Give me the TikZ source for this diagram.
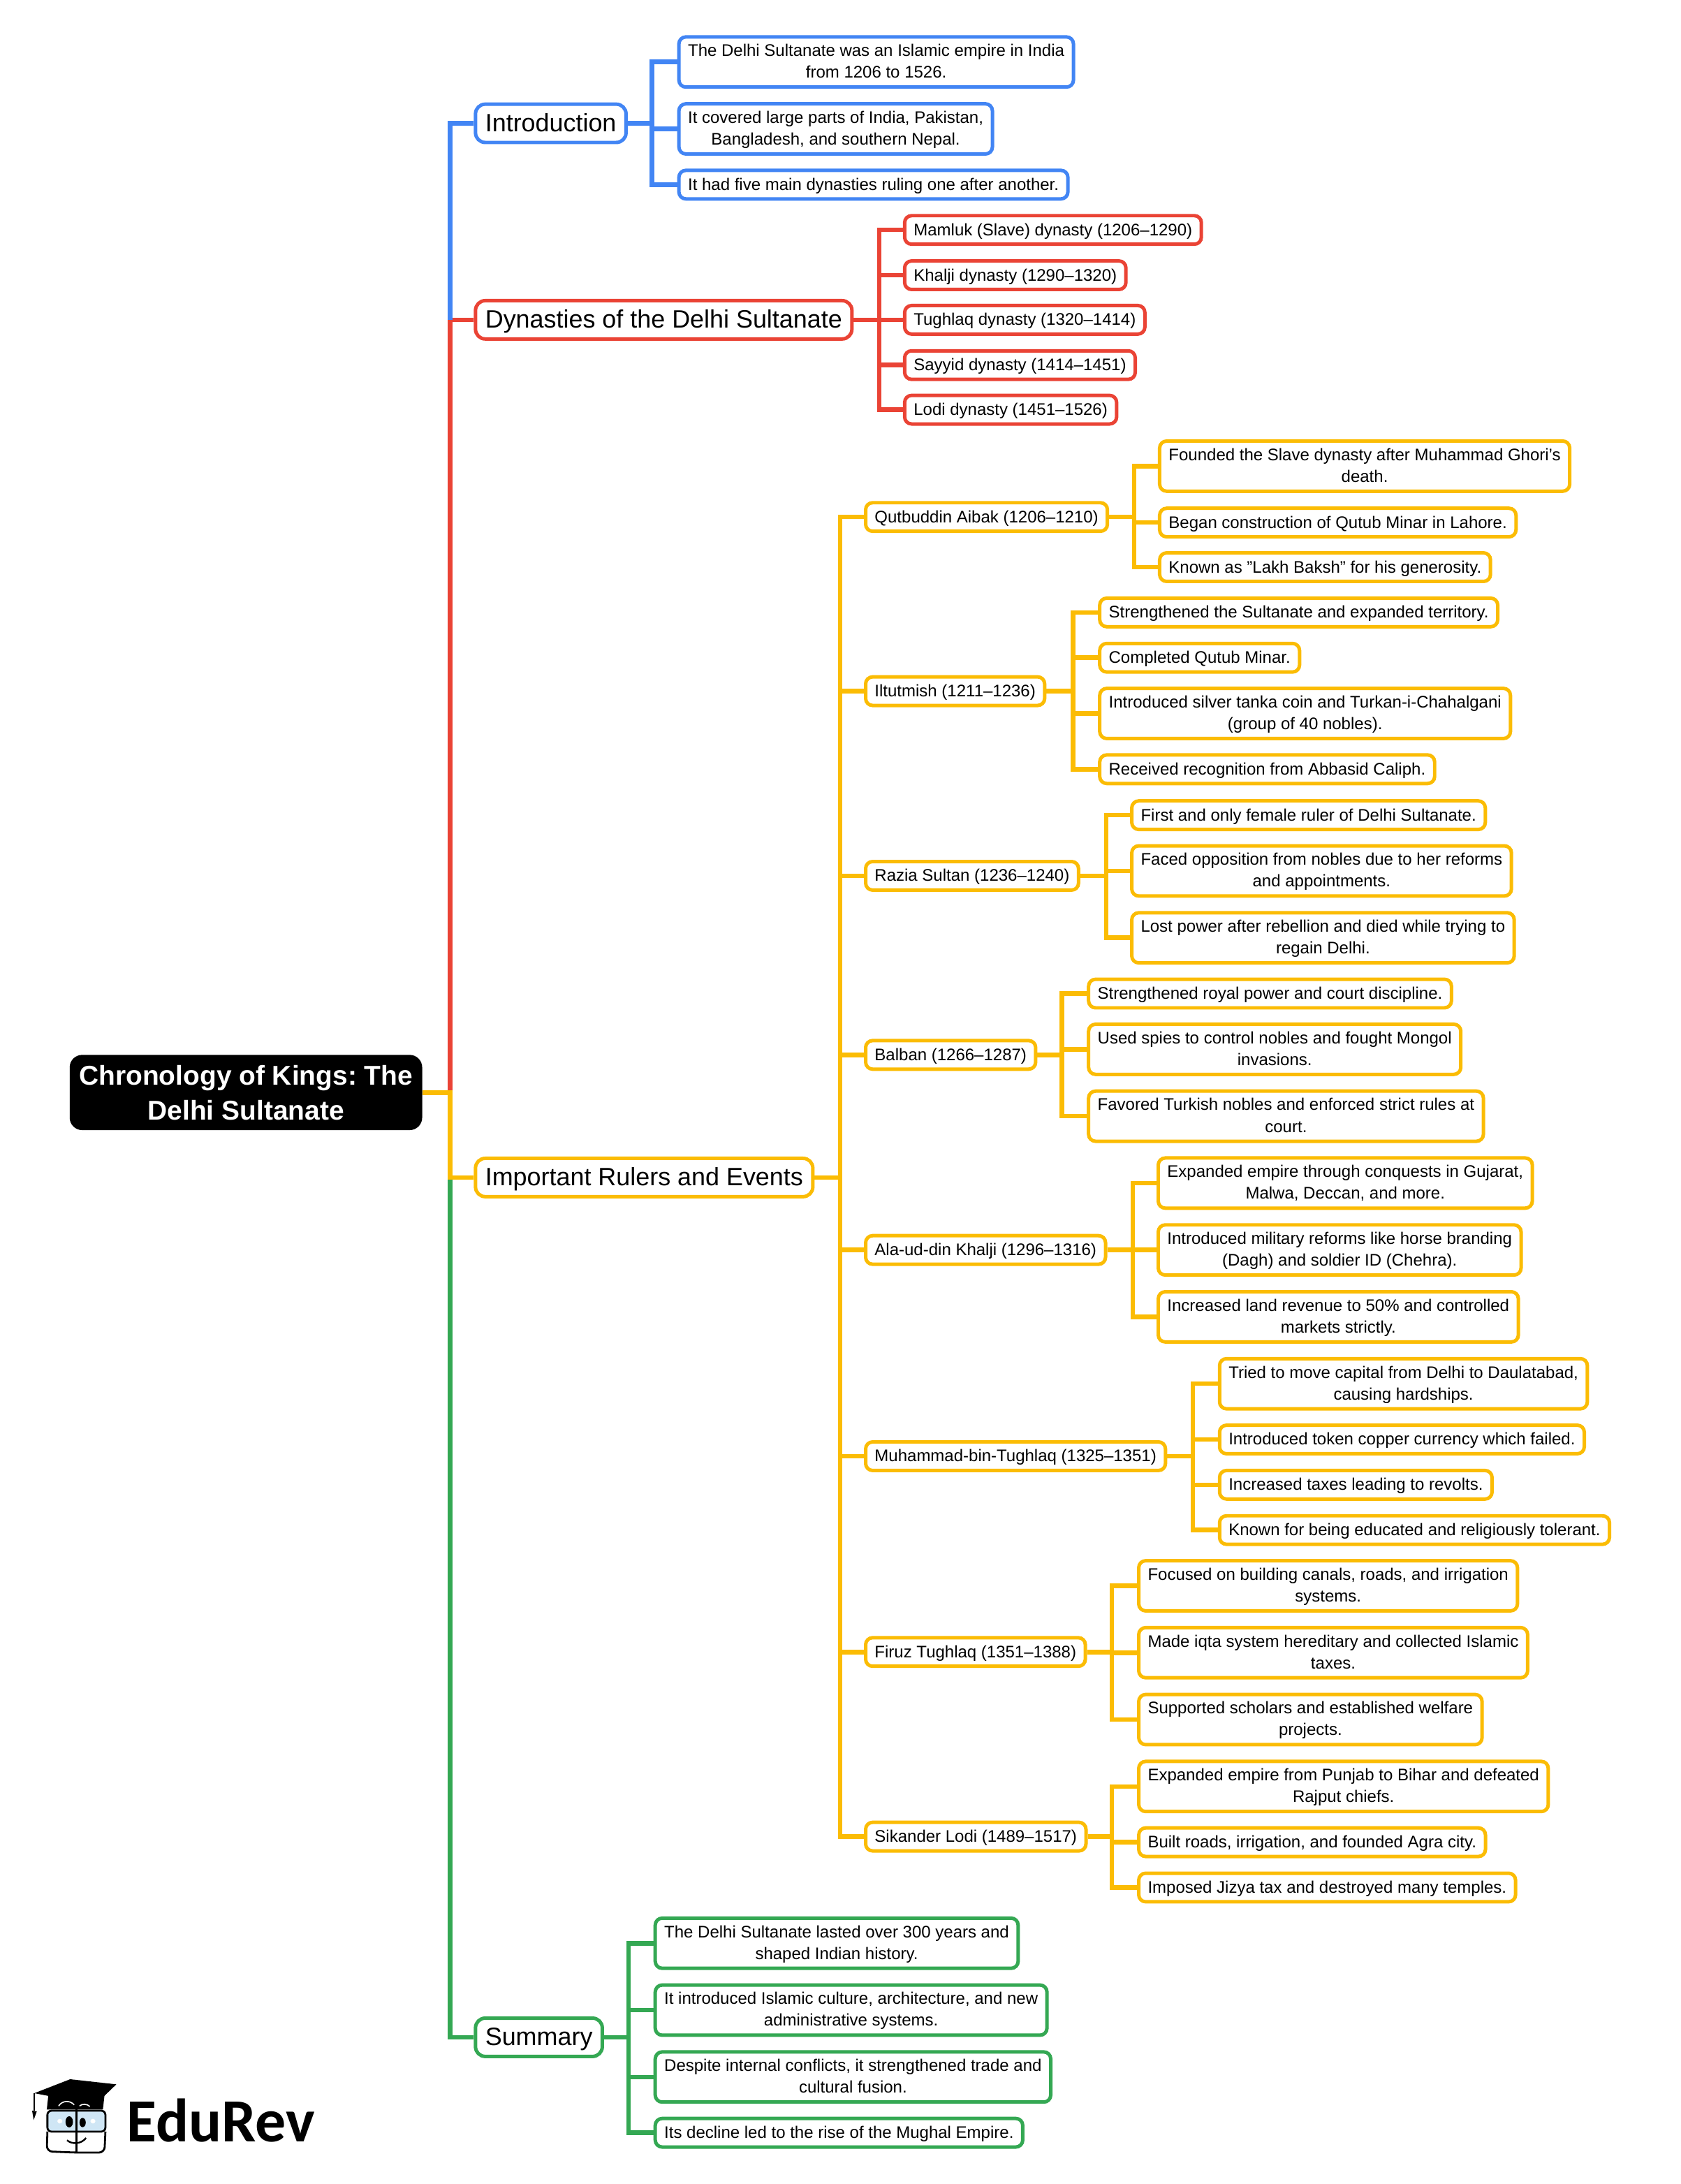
\documentclass[tikz,border=0pt]{standalone}
\usepackage{fontspec}
\setmainfont{Liberation Sans}
\newfontfamily\logofont{Carlito}
\definecolor{gblue}{HTML}{4285F4}
\definecolor{gred}{HTML}{EA4335}
\definecolor{gyellow}{HTML}{FBBC04}
\definecolor{ggreen}{HTML}{34A853}
\definecolor{lens}{HTML}{CFE6F5}
\tikzset{
  rootnode/.style={fill=black,text=white,rounded corners=9,minimum width=253,minimum height=54,inner xsep=0,inner ysep=0,align=center,
    font=\fontsize{19.5}{25}\selectfont\bfseries},
  topic/.style={draw=#1,fill=white,line width=2.5,rounded corners=7,anchor=west,minimum height=27.5,inner xsep=7,inner ysep=0,
    text height=15.5,text depth=3.5,font=\fontsize{18}{22}\selectfont},
  leaf/.style={draw=#1,fill=white,line width=2.5,rounded corners=5,anchor=west,minimum height=20.5,inner xsep=6.5,inner ysep=0,align=center,
    text height=10.5,text depth=2.5,font=\fontsize{12.03}{15.6}\selectfont},
  two/.style={minimum height=36,text height=25.6,text depth=2.6},
  wire/.style={draw=#1,line width=3.3}
}
\begin{document}
\frenchspacing
\begin{tikzpicture}[x=1pt,y=-1pt]
        \useasboundingbox (0,0) rectangle (1206.4,1567.3);
        \node[rootnode] (root) at (176.5,784) {Chronology of Kings: The\\Delhi Sultanate};

        \coordinate (tMain) at (323,784);
        \node[topic=gblue] (intro) at (340,88.5) {Introduction};
        \node[topic=gred] (dyn) at (340,229.5) {Dynasties of the Delhi Sultanate};
        \node[topic=gyellow] (imp) at (340,845) {Important Rulers and Events};
        \node[topic=ggreen] (summ) at (340,1462) {Summary};

        \coordinate (tDyn) at (323,229.5);
        \coordinate (tImp) at (323,845);
        \draw[wire=gred] (dyn.west) -| (tMain);
        \draw[wire=gblue] (intro.west) -| (tDyn);
        \draw[wire=ggreen] (summ.west) -| (tImp);
        \draw[wire=gyellow] (root.east) -- (tMain) |- (imp.west);

        % introduction
        \coordinate (tIntro) at (468,88.5);
        \node[leaf=gblue,two] (i1) at (486,44.5) {The Delhi Sultanate was an Islamic empire in India\\from 1206 to 1526.};
        \node[leaf=gblue,two] (i2) at (486,92.5) {It covered large parts of India, Pakistan,\\Bangladesh, and southern Nepal.};
        \node[leaf=gblue] (i3) at (486,132.5) {It had five main dynasties ruling one after another.};
        \draw[wire=gblue] (intro.east) -- (tIntro) |- (i1.west);
        \draw[wire=gblue] (intro.east) -- (tIntro) |- (i2.west);
        \draw[wire=gblue] (intro.east) -- (tIntro) |- (i3.west);

        % dynasties
        \coordinate (tList) at (631,229.5);
        \node[leaf=gred] (d1) at (648,165) {Mamluk (Slave) dynasty (1206--1290)};
        \node[leaf=gred] (d2) at (648,197.5) {Khalji dynasty (1290--1320)};
        \node[leaf=gred] (d3) at (648,229.5) {Tughlaq dynasty (1320--1414)};
        \node[leaf=gred] (d4) at (648,262) {Sayyid dynasty (1414--1451)};
        \node[leaf=gred] (d5) at (648,294) {Lodi dynasty (1451--1526)};
        \draw[wire=gred] (dyn.east) -- (tList) |- (d1.west);
        \draw[wire=gred] (dyn.east) -- (tList) |- (d2.west);
        \draw[wire=gred] (dyn.east) -- (tList) |- (d3.west);
        \draw[wire=gred] (dyn.east) -- (tList) |- (d4.west);
        \draw[wire=gred] (dyn.east) -- (tList) |- (d5.west);

        % rulers
        \coordinate (tRuler) at (603,845);
        \node[leaf=gyellow] (qutb) at (620,371) {Qutbuddin Aibak (1206--1210)};
        \node[leaf=gyellow] (ilt) at (620,496) {Iltutmish (1211--1236)};
        \node[leaf=gyellow] (raz) at (620,628.5) {Razia Sultan (1236--1240)};
        \node[leaf=gyellow] (bal) at (620,757) {Balban (1266--1287)};
        \node[leaf=gyellow] (ala) at (620,897) {Ala-ud-din Khalji (1296--1316)};
        \node[leaf=gyellow] (mbt) at (620,1045) {Muhammad-bin-Tughlaq (1325--1351)};
        \node[leaf=gyellow] (fir) at (620,1185.5) {Firuz Tughlaq (1351--1388)};
        \node[leaf=gyellow] (sik) at (620,1318) {Sikander Lodi (1489--1517)};
        \draw[wire=gyellow] (imp.east) -- (tRuler) |- (qutb.west);
        \draw[wire=gyellow] (imp.east) -- (tRuler) |- (ilt.west);
        \draw[wire=gyellow] (imp.east) -- (tRuler) |- (raz.west);
        \draw[wire=gyellow] (imp.east) -- (tRuler) |- (bal.west);
        \draw[wire=gyellow] (imp.east) -- (tRuler) |- (ala.west);
        \draw[wire=gyellow] (imp.east) -- (tRuler) |- (mbt.west);
        \draw[wire=gyellow] (imp.east) -- (tRuler) |- (fir.west);
        \draw[wire=gyellow] (imp.east) -- (tRuler) |- (sik.west);

        % qutbuddin
        \coordinate (tQutb) at (814,371);
        \node[leaf=gyellow,two] (q1) at (831,334.5) {Founded the Slave dynasty after Muhammad Ghori's\\death.};
        \node[leaf=gyellow] (q2) at (831,375) {Began construction of Qutub Minar in Lahore.};
        \node[leaf=gyellow] (q3) at (831,407) {Known as "Lakh Baksh" for his generosity.};
        \draw[wire=gyellow] (qutb.east) -- (tQutb) |- (q1.west);
        \draw[wire=gyellow] (qutb.east) -- (tQutb) |- (q2.west);
        \draw[wire=gyellow] (qutb.east) -- (tQutb) |- (q3.west);

        % iltutmish
        \coordinate (tIlt) at (770,496);
        \node[leaf=gyellow] (l1) at (788,439.5) {Strengthened the Sultanate and expanded territory.};
        \node[leaf=gyellow] (l2) at (788,472) {Completed Qutub Minar.};
        \node[leaf=gyellow,two] (l3) at (788,512) {Introduced silver tanka coin and Turkan-i-Chahalgani\\(group of 40 nobles).};
        \node[leaf=gyellow] (l4) at (788,552) {Received recognition from Abbasid Caliph.};
        \draw[wire=gyellow] (ilt.east) -- (tIlt) |- (l1.west);
        \draw[wire=gyellow] (ilt.east) -- (tIlt) |- (l2.west);
        \draw[wire=gyellow] (ilt.east) -- (tIlt) |- (l3.west);
        \draw[wire=gyellow] (ilt.east) -- (tIlt) |- (l4.west);

        % razia
        \coordinate (tRaz) at (794,628.5);
        \node[leaf=gyellow] (r1) at (811,585) {First and only female ruler of Delhi Sultanate.};
        \node[leaf=gyellow,two] (r2) at (811,625) {Faced opposition from nobles due to her reforms\\and appointments.};
        \node[leaf=gyellow,two] (r3) at (811,673) {Lost power after rebellion and died while trying to\\regain Delhi.};
        \draw[wire=gyellow] (raz.east) -- (tRaz) |- (r1.west);
        \draw[wire=gyellow] (raz.east) -- (tRaz) |- (r2.west);
        \draw[wire=gyellow] (raz.east) -- (tRaz) |- (r3.west);

        % balban
        \coordinate (tBal) at (762,757);
        \node[leaf=gyellow] (b1) at (780,713) {Strengthened royal power and court discipline.};
        \node[leaf=gyellow,two] (b2) at (780,753) {Used spies to control nobles and fought Mongol\\invasions.};
        \node[leaf=gyellow,two] (b3) at (780,801) {Favored Turkish nobles and enforced strict rules at\\court.};
        \draw[wire=gyellow] (bal.east) -- (tBal) |- (b1.west);
        \draw[wire=gyellow] (bal.east) -- (tBal) |- (b2.west);
        \draw[wire=gyellow] (bal.east) -- (tBal) |- (b3.west);

        % ala-ud-din
        \coordinate (tAla) at (813,897);
        \node[leaf=gyellow,two] (a1) at (830,849) {Expanded empire through conquests in Gujarat,\\Malwa, Deccan, and more.};
        \node[leaf=gyellow,two] (a2) at (830,897) {Introduced military reforms like horse branding\\(Dagh) and soldier ID (Chehra).};
        \node[leaf=gyellow,two] (a3) at (830,945) {Increased land revenue to 50\% and controlled\\markets strictly.};
        \draw[wire=gyellow] (ala.east) -- (tAla) |- (a1.west);
        \draw[wire=gyellow] (ala.east) -- (tAla) |- (a2.west);
        \draw[wire=gyellow] (ala.east) -- (tAla) |- (a3.west);

        % muhammad
        \coordinate (tMbt) at (856,1045);
        \node[leaf=gyellow,two] (m1) at (874,993) {Tried to move capital from Delhi to Daulatabad,\\causing hardships.};
        \node[leaf=gyellow] (m2) at (874,1033) {Introduced token copper currency which failed.};
        \node[leaf=gyellow] (m3) at (874,1065.5) {Increased taxes leading to revolts.};
        \node[leaf=gyellow] (m4) at (874,1098) {Known for being educated and religiously tolerant.};
        \draw[wire=gyellow] (mbt.east) -- (tMbt) |- (m1.west);
        \draw[wire=gyellow] (mbt.east) -- (tMbt) |- (m2.west);
        \draw[wire=gyellow] (mbt.east) -- (tMbt) |- (m3.west);
        \draw[wire=gyellow] (mbt.east) -- (tMbt) |- (m4.west);

        % firuz
        \coordinate (tFir) at (798,1185.5);
        \node[leaf=gyellow,two] (f1) at (816,1138) {Focused on building canals, roads, and irrigation\\systems.};
        \node[leaf=gyellow,two] (f2) at (816,1186) {Made iqta system hereditary and collected Islamic\\taxes.};
        \node[leaf=gyellow,two] (f3) at (816,1234) {Supported scholars and established welfare\\projects.};
        \draw[wire=gyellow] (fir.east) -- (tFir) |- (f1.west);
        \draw[wire=gyellow] (fir.east) -- (tFir) |- (f2.west);
        \draw[wire=gyellow] (fir.east) -- (tFir) |- (f3.west);

        % sikander
        \coordinate (tSik) at (798,1318);
        \node[leaf=gyellow,two] (s1) at (816,1282) {Expanded empire from Punjab to Bihar and defeated\\Rajput chiefs.};
        \node[leaf=gyellow] (s2) at (816,1322) {Built roads, irrigation, and founded Agra city.};
        \node[leaf=gyellow] (s3) at (816,1354.5) {Imposed Jizya tax and destroyed many temples.};
        \draw[wire=gyellow] (sik.east) -- (tSik) |- (s1.west);
        \draw[wire=gyellow] (sik.east) -- (tSik) |- (s2.west);
        \draw[wire=gyellow] (sik.east) -- (tSik) |- (s3.west);

        % summary
        \coordinate (tSumm) at (451,1462);
        \node[leaf=ggreen,two] (e1) at (469,1394.5) {The Delhi Sultanate lasted over 300 years and\\shaped Indian history.};
        \node[leaf=ggreen,two] (e2) at (469,1442.5) {It introduced Islamic culture, architecture, and new\\administrative systems.};
        \node[leaf=ggreen,two] (e3) at (469,1490.5) {Despite internal conflicts, it strengthened trade and\\cultural fusion.};
        \node[leaf=ggreen] (e4) at (469,1530.5) {Its decline led to the rise of the Mughal Empire.};
        \draw[wire=ggreen] (summ.east) -- (tSumm) |- (e1.west);
        \draw[wire=ggreen] (summ.east) -- (tSumm) |- (e2.west);
        \draw[wire=ggreen] (summ.east) -- (tSumm) |- (e3.west);
        \draw[wire=ggreen] (summ.east) -- (tSumm) |- (e4.west);

        % logo
        \node[anchor=base west,inner sep=0,font=\fontsize{44}{44}\selectfont\logofont\bfseries] (brand) at (91,1537) {EduRev};
        \begin{scope}[shift={(0,1428.6)},x=0.2238pt,y=-0.1671pt]
          \fill (155,450) -- (335,450) -- (330,510) -- (150,510) -- cycle;
          \fill[lens,draw=black,line width=1.4,rounded corners=3] (152,515) rectangle (338,605);
          \draw[line width=1.4,rounded corners=4] (152,605) -- (150,690) -- (245,695) -- (335,695) -- (338,605);
          \draw[white,line width=0.8] (188,495) .. controls (200,470) and (225,470) .. (238,490);
          \draw[white,line width=0.8] (255,495) .. controls (262,485) and (280,485) .. (288,497);
          \fill (110,440) -- (225,380) -- (373,402) -- (305,490) -- cycle;
          \draw[line width=0.7] (110,440) -- (110,515);
          \fill (103,515) -- (118,518) -- (108,555) -- cycle;
          \draw[line width=1.4] (245,505) -- (245,695);
          \fill (222,563) ellipse [x radius=12,y radius=24];
          \fill (265,566) ellipse [x radius=10,y radius=20];
          \fill[white] (192,560) circle [x radius=8,y radius=10];
          \fill[white] (298,560) circle [x radius=8,y radius=10];
          \draw[line width=1.2] (215,642) .. controls (230,660) and (260,660) .. (276,632);
        \end{scope}
      \end{tikzpicture}
\end{document}
